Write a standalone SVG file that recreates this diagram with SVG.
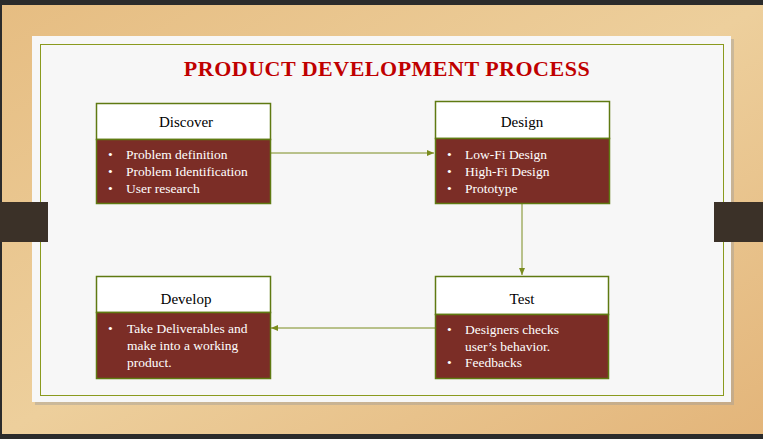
<svg xmlns="http://www.w3.org/2000/svg" width="763" height="439" viewBox="0 0 763 439">
<defs>
<linearGradient id="wood" x1="0" y1="0" x2="1" y2="1">
<stop offset="0" stop-color="#e6bd82"/><stop offset="0.5" stop-color="#edcf9c"/><stop offset="1" stop-color="#e3b57a"/>
</linearGradient>
<marker id="ah" markerWidth="8" markerHeight="8" refX="7" refY="4" orient="auto" markerUnits="userSpaceOnUse">
<path d="M0,1 L7,4 L0,7 Z" fill="#7a8c1e"/>
</marker>
</defs>
<style>
.hd{fill:#fff;stroke:#5f7a12;stroke-width:1.5}
.bd{fill:#7b2d26;stroke:#5f7a12;stroke-width:1.5}
.t{font-family:"Liberation Serif",serif;font-size:15px;fill:#000;text-anchor:middle}
.b{font-family:"Liberation Serif",serif;font-size:13.5px;fill:#fff}
.c{stroke:#7a8c1e;stroke-width:1;fill:none;marker-end:url(#ah)}
</style>
<rect width="763" height="439" fill="#2b2b2b"/>
<rect x="2" y="5" width="761" height="429" fill="url(#wood)"/>
<rect x="35" y="39" width="699" height="366" fill="#999" opacity="0.4"/>
<rect x="32" y="36" width="699" height="366" fill="#f7f7f7"/>
<rect x="40.5" y="44.5" width="683" height="351" fill="none" stroke="#8a9a1e" stroke-width="1"/>
<rect x="0" y="202" width="48" height="40" fill="#3b3128"/>
<rect x="714" y="202" width="49" height="40" fill="#3b3128"/>
<text x="387" y="76" text-anchor="middle" font-family="Liberation Serif,serif" font-weight="bold" font-size="22" fill="#c00000" letter-spacing="0.5">PRODUCT DEVELOPMENT PROCESS</text>
<g id="connectors">
<line class="c" x1="270" y1="153" x2="434" y2="153"/>
<line class="c" x1="522" y1="203" x2="522" y2="275"/>
<line class="c" x1="435" y1="328" x2="271" y2="328"/>
</g>
<g id="discover">
<rect class="hd" x="96.5" y="103.5" width="174" height="36"/>
<rect class="bd" x="96.5" y="139.5" width="174" height="64"/>
<text class="t" x="186" y="127">Discover</text>
<text class="b" x="108" y="159">•<tspan x="126">Problem definition</tspan></text>
<text class="b" x="108" y="176">•<tspan x="126">Problem Identification</tspan></text>
<text class="b" x="108" y="193">•<tspan x="126">User research</tspan></text>
</g>
<g id="design">
<rect class="hd" x="435.5" y="101.5" width="174" height="37"/>
<rect class="bd" x="435.5" y="138.5" width="174" height="65"/>
<text class="t" x="522" y="127">Design</text>
<text class="b" x="447" y="159">•<tspan x="465">Low-Fi Design</tspan></text>
<text class="b" x="447" y="176">•<tspan x="465">High-Fi Design</tspan></text>
<text class="b" x="447" y="193">•<tspan x="465">Prototype</tspan></text>
</g>
<g id="develop">
<rect class="hd" x="96.5" y="276.5" width="174" height="36"/>
<rect class="bd" x="96.5" y="312.5" width="174" height="66"/>
<text class="t" x="186" y="304">Develop</text>
<text class="b" x="108" y="333">•<tspan x="127">Take Deliverables and</tspan></text>
<text class="b" x="127" y="350">make into a working</text>
<text class="b" x="127" y="367">product.</text>
</g>
<g id="test">
<rect class="hd" x="435.5" y="276.5" width="173" height="38"/>
<rect class="bd" x="435.5" y="314.5" width="173" height="64"/>
<text class="t" x="522" y="304">Test</text>
<text class="b" x="447" y="334">•<tspan x="465">Designers checks</tspan></text>
<text class="b" x="465" y="351">user’s behavior.</text>
<text class="b" x="447" y="367">•<tspan x="465">Feedbacks</tspan></text>
</g>
</svg>
